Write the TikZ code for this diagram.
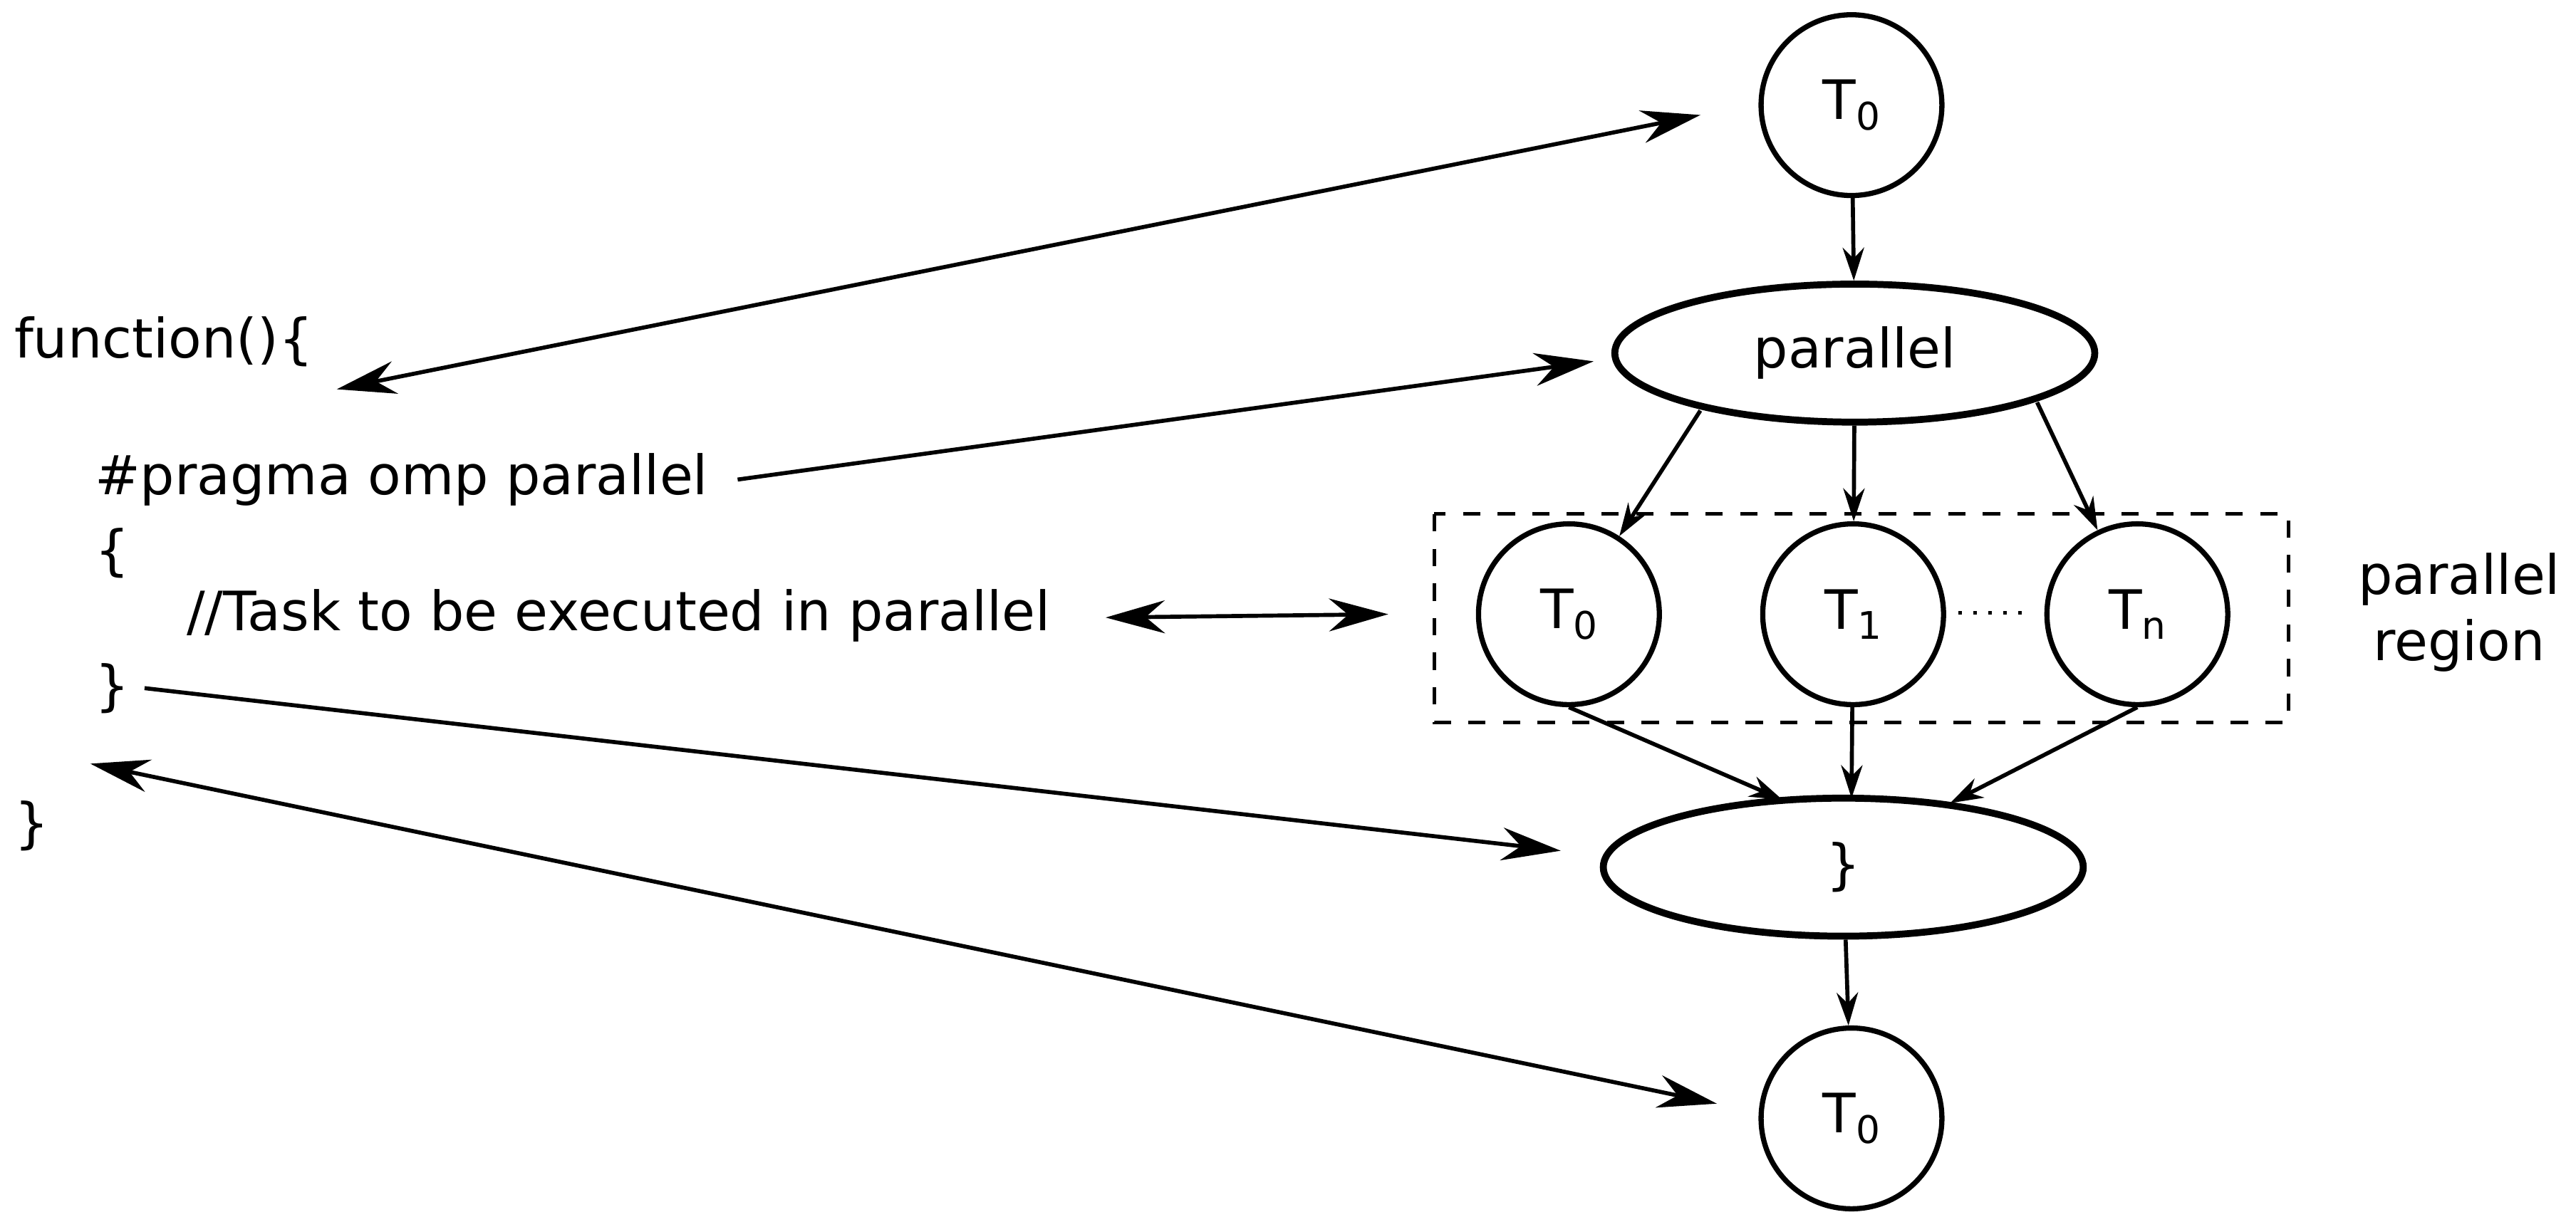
\documentclass[tikz,border=0pt]{standalone}
\usepackage{fontspec}
\setmainfont{DejaVu Sans}
\usetikzlibrary{arrows.meta,shapes.geometric}
\newcommand{\sbs}[1]{\raisebox{-0.35ex}{\scalebox{0.7}{#1}}}
\begin{document}
\begin{tikzpicture}[x=0.01cm,y=-0.01cm,
  txt/.style={font=\fontsize{9.4pt}{11.5pt}\selectfont,inner sep=0pt},
  circ/.style={circle,draw,line width=0.9pt,minimum size=1.1cm,inner sep=0pt,txt},
  ell/.style={ellipse,draw,line width=1.2pt,minimum width=2.92cm,minimum height=0.84cm,inner sep=0pt,txt},
  big/.style={line width=0.7pt,-{Stealth[length=0.36cm,width=0.2cm]}},
  bigb/.style={line width=0.7pt,{Stealth[length=0.36cm,width=0.2cm]}-{Stealth[length=0.36cm,width=0.2cm]}},
  sm/.style={line width=0.7pt,-{Stealth[length=0.2cm,width=0.13cm]}}]
\useasboundingbox (0,0) rectangle (1568,750);
\node[circ] (t0a) at (1127,64) {T\sbs{0}};
\node[ell] (par) at (1129,215) {parallel};
\node[circ] (t0) at (955,374) {T\sbs{0}};
\node[circ] (t1) at (1128,374) {T\sbs{1}};
\node[circ] (tn) at (1301,374) {T\sbs{n}};
\node[ell] (end) at (1122,528) {\}};
\node[circ] (t0b) at (1127,681) {T\sbs{0}};
\draw[dashed,line width=0.6pt] (873,313) rectangle (1393,440);
\draw[dotted,line width=0.6pt] (1192,373) -- (1237,373);
\node[txt,align=center] (reg) at (1497,373) {parallel\\region};

\node[txt,anchor=west] (fn) at (8,208) {function()\{};
\node[txt,anchor=west] (pr) at (57,292) {\#pragma omp parallel};
\node[txt,anchor=west] (ob) at (57,337) {\{};
\node[txt,anchor=west] (task) at (113,375) {//Task to be executed in parallel};
\node[txt,anchor=west] (cb) at (57,419) {\}};
\node[txt,anchor=west] (fe) at (8,503) {\}};

\coordinate (a1) at (205,237); \coordinate (a2) at (1035,70);
\coordinate (b1) at (449,292); \coordinate (b2) at (970,220);
\coordinate (c1) at (673,376); \coordinate (c2) at (845,374);
\coordinate (d1) at (88,419); \coordinate (d2) at (950,518);
\coordinate (e1) at (55,465); \coordinate (e2) at (1045,672);
\draw[bigb] (a1) -- (a2);
\draw[big] (b1) -- (b2);
\draw[bigb] (c1) -- (c2);
\draw[big] (d1) -- (d2);
\draw[bigb] (e1) -- (e2);

\draw[sm] (t0a) -- (par);
\draw[sm] (1035,250) -- (t0);
\draw[sm] (par) -- (t1);
\draw[sm] (1240,245) -- (tn);
\draw[sm] (t0.south) -- (1085,487);
\draw[sm] (t1) -- (1127,486);
\draw[sm] (tn.south) -- (1187,489);
\draw[sm] (end) -- (t0b);
\end{tikzpicture}
\end{document}
